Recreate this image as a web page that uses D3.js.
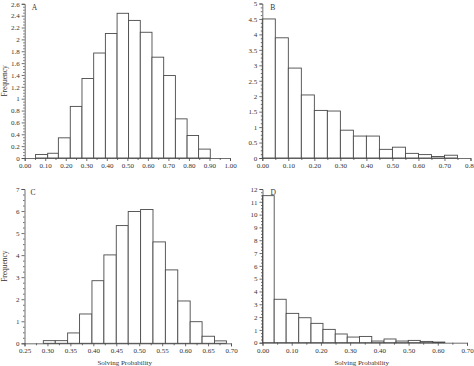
<!DOCTYPE html>
<html><head><meta charset="utf-8">
<script src="https://cdn.jsdelivr.net/npm/d3@7"></script>
<style>body{margin:0;background:#fff}svg{display:block}text{font-family:"Liberation Serif","DejaVu Serif",serif;fill:#333}</style>
</head><body>
<script>
// ---- data ----
const aEdges = [0.053,0.112,0.164,0.222,0.279,0.336,0.393,0.450,0.506,0.563,0.620,0.677,0.734,0.791,0.847,0.904];
const aFreq  = [0.06,0.08,0.34,0.87,1.34,1.77,2.10,2.44,2.32,2.12,1.70,1.39,0.66,0.38,0.15];
const aXTicks = [0,0.1,0.2,0.3,0.4,0.5,0.6,0.7,0.8,0.9,1.0];
const aYTicks = [0,0.2,0.4,0.6,0.8,1,1.2,1.4,1.6,1.8,2,2.2,2.4,2.6];

const bEdges = [0,0.05,0.10,0.15,0.20,0.25,0.30,0.35,0.40,0.45,0.50,0.55,0.60,0.65,0.70,0.75];
const bFreq  = [4.5,3.89,2.91,2.04,1.54,1.52,0.90,0.71,0.71,0.28,0.35,0.15,0.11,0.05,0.09];
const bXTicks = [0,0.1,0.2,0.3,0.4,0.5,0.6,0.7,0.8];
const bYTicks = [0,0.5,1,1.5,2,2.5,3,3.5,4,4.5,5];

const cEdges = [0.291,0.317,0.344,0.370,0.397,0.423,0.450,0.476,0.503,0.530,0.557,0.584,0.611,0.637,0.664,0.690];
const cFreq  = [0.12,0.12,0.47,1.33,2.84,4.01,5.34,5.98,6.07,4.60,3.33,1.92,0.98,0.32,0.11];
const cXTicks = [0.25,0.30,0.35,0.40,0.45,0.50,0.55,0.60,0.65,0.70];
const cYTicks = [0,1,2,3,4,5,6,7];

const dEdges = [0,0.040,0.081,0.124,0.166,0.207,0.249,0.290,0.332,0.374,0.416,0.457,0.499,0.540,0.583,0.624];
const dFreq  = [11.48,3.39,2.29,1.95,1.51,1.04,0.68,0.44,0.49,0.13,0.29,0.13,0.18,0.10,0.05];
const dXTicks = [0,0.1,0.2,0.3,0.4,0.5,0.6,0.7];
const dYTicks = [0,1,2,3,4,5,6,7,8,9,10,11,12];

const panelLetters = ["A","B","C","D"];
const yTitle = "Frequency";
const xTitle = "Solving Probability";

// ---- drawing ----
const W = 474, H = 366;
const svg = d3.select("body").append("svg").attr("width", W).attr("height", H);
const stroke = "#4a4a4a";

function panel(o) {
  const x = d3.scaleLinear().domain([o.xTicks[0], o.xTicks[o.xTicks.length-1]]).range(o.xr);
  const y = d3.scaleLinear().domain([0, o.yTicks[o.yTicks.length-1]]).range(o.yr);
  const g = svg.append("g");
  g.selectAll("rect").data(o.freq).join("rect")
    .attr("x", (d,i) => x(o.edges[i]))
    .attr("width", (d,i) => x(o.edges[i+1]) - x(o.edges[i]))
    .attr("y", d => y(d))
    .attr("height", d => y(0) - y(d))
    .attr("fill", "#fff").attr("stroke", stroke).attr("stroke-width", 0.9);
  const xStep = o.xTicks[1]-o.xTicks[0], yStep = o.yTicks[1]-o.yTicks[0];
  const xMinor = [], yMinor = [];
  for (let i = 0; i < o.xTicks.length-1; i++) xMinor.push(o.xTicks[i] + xStep/2);
  for (let i = 0; i < o.yTicks.length-1; i++) for (let k = 1; k < 4; k++) yMinor.push(o.yTicks[i] + yStep*k/4);
  g.append("g").attr("transform", `translate(0,${y(0)})`)
    .call(d3.axisBottom(x).tickValues(xMinor).tickSize(2).tickFormat(""))
    .call(a => a.select(".domain").remove());
  g.append("g").attr("transform", `translate(${x.range()[0]},0)`)
    .call(d3.axisLeft(y).tickValues(yMinor).tickSize(1.5).tickFormat(""))
    .call(a => a.select(".domain").remove());
  g.append("g").attr("transform", `translate(0,${y(0)})`)
    .call(d3.axisBottom(x).tickValues(o.xTicks).tickSizeOuter(0).tickSize(3).tickPadding(2)
      .tickFormat(o.xFmt));
  g.append("g").attr("transform", `translate(${x.range()[0]},0)`)
    .call(d3.axisLeft(y).tickValues(o.yTicks).tickSizeOuter(0).tickSize(3).tickPadding(2)
      .tickFormat(d => d3.format("~r")(+d.toFixed(2))));
  g.selectAll(".tick line, .domain").attr("stroke", stroke).attr("stroke-width", 0.8);
  g.selectAll(".tick text").attr("font-size", 7).attr("fill", "#333")
    .attr("font-family", "Liberation Serif, serif");
  g.append("text").attr("x", x.range()[0] + o.lx).attr("y", y.range()[1] + 6)
    .attr("font-size", 7.5).text(o.letter);
  if (o.yTitle) g.append("text")
    .attr("transform", `translate(7,${(y.range()[0]+y.range()[1])/2}) rotate(-90)`)
    .attr("text-anchor", "middle").attr("font-size", 7.4).text(yTitle);
  if (o.xTitle) g.append("text")
    .attr("x", (x.range()[0]+x.range()[1])/2 - 3).attr("y", y(0) + 22)
    .attr("text-anchor", "middle").attr("font-size", 7).text(xTitle);
}

panel({edges:aEdges, freq:aFreq, xTicks:aXTicks, yTicks:aYTicks, xr:[24.7,230], yr:[158,3.8],
  xFmt:d3.format(".2f"), letter:panelLetters[0], lx:7, yTitle:true});
panel({edges:bEdges, freq:bFreq, xTicks:bXTicks, yTicks:bYTicks, xr:[262.3,470.5], yr:[158,3.5],
  xFmt:d3.format(".2f"), letter:panelLetters[1], lx:8});
panel({edges:cEdges, freq:cFreq, xTicks:cXTicks, yTicks:cYTicks, xr:[24.5,231], yr:[343.3,189],
  xFmt:d3.format(".2f"), letter:panelLetters[2], lx:6, yTitle:true, xTitle:true});
panel({edges:dEdges, freq:dFreq, xTicks:dXTicks, yTicks:dYTicks, xr:[262.5,467], yr:[342.7,189],
  xFmt:d3.format(".2f"), letter:panelLetters[3], lx:8, xTitle:true});
</script>
</body></html>
